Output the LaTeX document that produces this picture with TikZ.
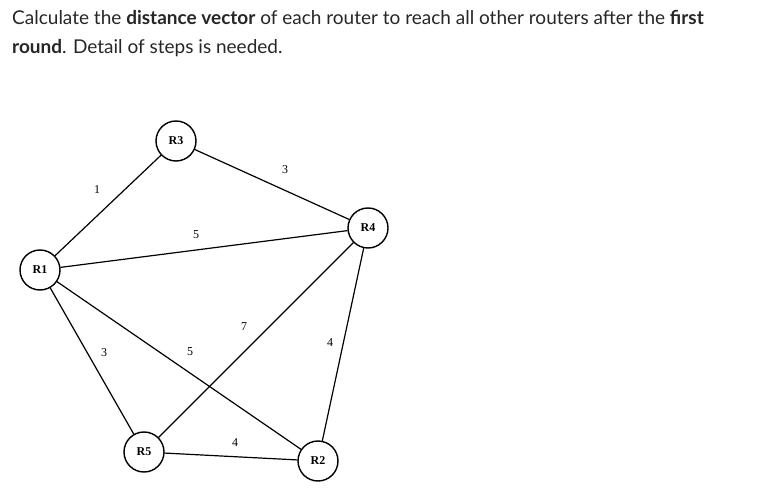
\documentclass[tikz,border=0pt]{standalone}
\usepackage{fontspec}
\setmainfont{Lato}
\newfontfamily\serifnode{Liberation Serif}
\begin{document}
\begin{tikzpicture}[x=1pt,y=-1pt,
  router/.style={circle,draw,line width=1.4pt,minimum size=40pt,inner sep=0pt,font=\serifnode\bfseries\fontsize{12}{13}\selectfont},
  edge/.style={line width=1.2pt},
  wt/.style={font=\serifnode\fontsize{12}{13}\selectfont}]
\useasboundingbox (0,0) rectangle (758,497);
\node[anchor=west,font=\fontsize{19}{22}\selectfont,color=black!85,inner sep=0pt] (t1) at (12,18) {Calculate the \textbf{distance vector} of each router to reach all other routers after the \textbf{first}};
\node[anchor=west,font=\fontsize{19}{22}\selectfont,color=black!85,inner sep=0pt] (t2) at (12,48) {\textbf{round}. Detail of steps is needed.};
\node[router] (R3) at (176,141) {R3};
\node[router] (R4) at (368,228) {R4};
\node[router] (R1) at (40,270) {R1};
\node[router] (R5) at (144,452) {R5};
\node[router] (R2) at (318,461) {R2};
\draw[edge] (R1) -- (R3);
\draw[edge] (R3) -- (R4);
\draw[edge] (R1) -- (R4);
\draw[edge] (R1) -- (R5);
\draw[edge] (R1) -- (R2);
\draw[edge] (R5) -- (R4);
\draw[edge] (R4) -- (R2);
\draw[edge] (R5) -- (R2);
\node[wt] (w1) at (97,190) {1};
\node[wt] (w2) at (285,170) {3};
\node[wt] (w3) at (196,235) {5};
\node[wt] (w4) at (244,327) {7};
\node[wt] (w5) at (330,343) {4};
\node[wt] (w6) at (104,353) {3};
\node[wt] (w7) at (190,352) {5};
\node[wt] (w8) at (235,443) {4};
\end{tikzpicture}
\end{document}
